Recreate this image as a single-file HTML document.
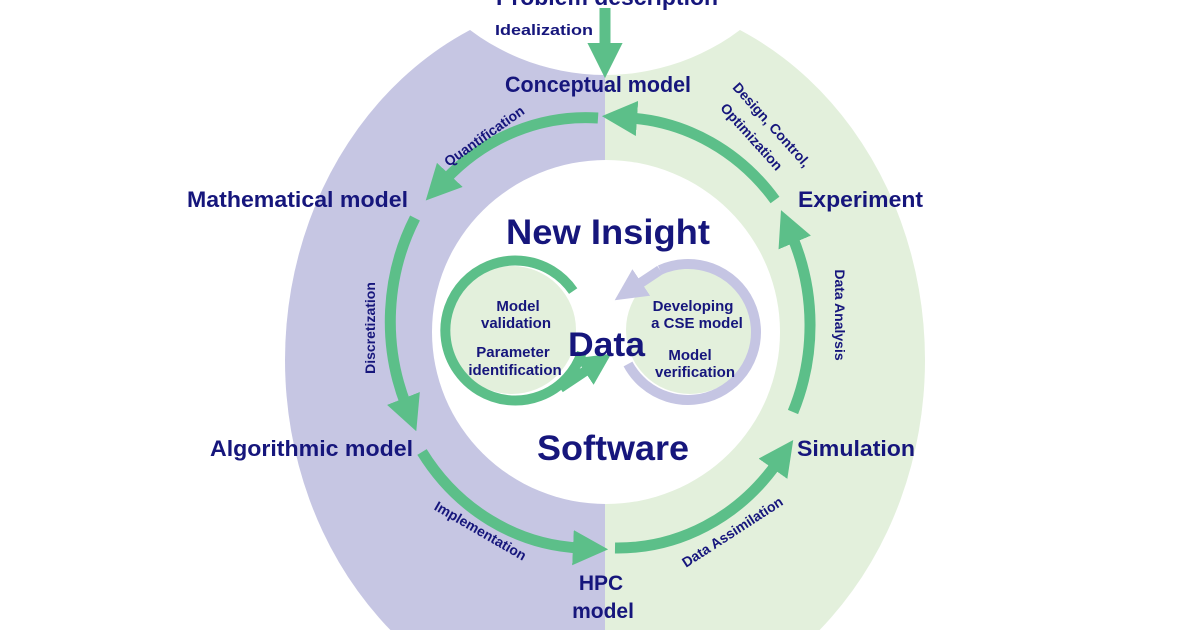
<!DOCTYPE html>
<html><head><meta charset="utf-8"><style>
html,body{margin:0;padding:0;background:#fff;width:1200px;height:630px;overflow:hidden}
svg{display:block}
text{font-family:"Liberation Sans",sans-serif;font-weight:bold;fill:#16167c}
</style></head><body>
<svg width="1200" height="630" viewBox="0 0 1200 630">
<defs>
<clipPath id="L"><rect x="0" y="0" width="605" height="630"/></clipPath>
<clipPath id="R"><rect x="605" y="0" width="600" height="630"/></clipPath>
<marker id="ag" viewBox="0 0 10 10" refX="2" refY="5" markerWidth="3.2" markerHeight="3.2" orient="auto" markerUnits="strokeWidth">
<path d="M0,0 L10,5 L0,10 z" fill="#5cbf89"/></marker>
<marker id="ap" viewBox="0 0 10 10" refX="2" refY="5" markerWidth="3.2" markerHeight="3.2" orient="auto" markerUnits="strokeWidth">
<path d="M0,0 L10,5 L0,10 z" fill="#c5c5e3"/></marker>
</defs>
<ellipse cx="605" cy="360" rx="320" ry="364" fill="#c6c6e3" clip-path="url(#L)"/>
<ellipse cx="605" cy="360" rx="320" ry="364" fill="#e3f0dc" clip-path="url(#R)"/>
<circle cx="605" cy="-150" r="225" fill="#fff"/>
<ellipse cx="606" cy="332" rx="174" ry="172" fill="#fff"/>

<line x1="605" y1="8" x2="605" y2="50" stroke="#5cbf89" stroke-width="11" marker-end="url(#ag)"/>

<g fill="none" stroke="#5cbf89" stroke-width="11">
<path d="M598,118 A200 215 0 0 0 445,180" marker-end="url(#ag)"/>
<path d="M415,218 A200 215 0 0 0 406,405" marker-end="url(#ag)"/>
<path d="M422,452 A200 215 0 0 0 580,548" marker-end="url(#ag)"/>
<path d="M615,548 A200 215 0 0 0 777,463" marker-end="url(#ag)"/>
<path d="M793,412 A200 215 0 0 0 792,236" marker-end="url(#ag)"/>
<path d="M775,200 A200 215 0 0 0 630,118" marker-end="url(#ag)"/>
</g>

<circle cx="512" cy="330" r="64" fill="#e3f0dc"/>
<circle cx="690" cy="330" r="64" fill="#e3f0dc"/>
<path d="M578,300 A70 70 0 1 0 578,362" fill="none" stroke="#5cbf89" stroke-width="10" transform="rotate(-8 512 330)"/>
<path d="M560,388 L590,368" stroke="#5cbf89" stroke-width="10" marker-end="url(#ag)"/>
<path d="M628,364 A68 68 0 1 0 660,270" fill="none" stroke="#c5c5e3" stroke-width="10"/>
<path d="M660,270 L636,286" stroke="#c5c5e3" stroke-width="10" marker-end="url(#ap)"/>

<text x="496" y="5" font-size="23" textLength="222" lengthAdjust="spacingAndGlyphs">Problem description</text>
<text x="495" y="35" font-size="15" textLength="98" lengthAdjust="spacingAndGlyphs">Idealization</text>
<text x="505" y="92" font-size="22" textLength="186" lengthAdjust="spacingAndGlyphs">Conceptual model</text>
<text x="187" y="207" font-size="22" textLength="221" lengthAdjust="spacingAndGlyphs">Mathematical model</text>
<text x="798" y="207" font-size="22" textLength="125" lengthAdjust="spacingAndGlyphs">Experiment</text>
<text x="210" y="456" font-size="22" textLength="203" lengthAdjust="spacingAndGlyphs">Algorithmic model</text>
<text x="797" y="456" font-size="22" textLength="118" lengthAdjust="spacingAndGlyphs">Simulation</text>
<text x="601" y="590" font-size="21" text-anchor="middle">HPC</text>
<text x="603" y="618" font-size="21" text-anchor="middle">model</text>
<text x="506" y="244" font-size="35" textLength="204" lengthAdjust="spacingAndGlyphs">New Insight</text>
<text x="537" y="460" font-size="35" textLength="152" lengthAdjust="spacingAndGlyphs">Software</text>
<text x="568" y="356" font-size="34" textLength="77" lengthAdjust="spacingAndGlyphs">Data</text>
<g font-size="15" text-anchor="middle">
<text x="518" y="311">Model</text><text x="516" y="328">validation</text>
<text x="513" y="357">Parameter</text><text x="515" y="375">identification</text>
<text x="693" y="311">Developing</text><text x="697" y="328">a CSE model</text>
<text x="690" y="360">Model</text><text x="695" y="377">verification</text>
</g>
<g font-size="14" text-anchor="middle">
<text transform="translate(487,140) rotate(-35)">Quantification</text>
<text transform="translate(768,128) rotate(48)">Design, Control,</text>
<text transform="translate(748,140) rotate(48)">Optimization</text>
<text transform="translate(375,328) rotate(-90)">Discretization</text>
<text transform="translate(835,315) rotate(90)">Data Analysis</text>
<text transform="translate(478,535) rotate(30)">Implementation</text>
<text transform="translate(735,536) rotate(-33)">Data Assimilation</text>
</g>
</svg>
</body></html>
